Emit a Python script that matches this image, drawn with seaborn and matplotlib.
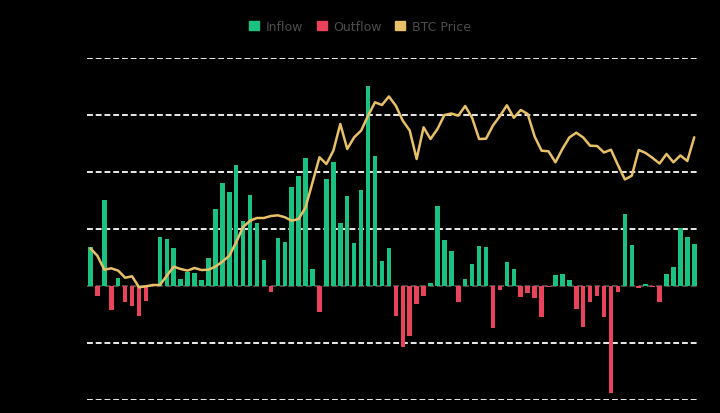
import numpy as np
import pandas as pd
import matplotlib
matplotlib.use("Agg")
import matplotlib.pyplot as plt
import seaborn as sns
from matplotlib.patches import Patch

# daily net flows (USD m) and BTC price
flows = [342, -88, 754, -211, 70, -140, -175, -263, -132, 5,
         430, 412, 333, 61, 123, 114, 53, 246, 675, 904,
         825, 1061, 570, 798, 553, 228, -53, 421, 386, 868,
         962, 1123, 149, -231, 939, 1085, 550, 792, 374, 842,
         1752, 1143, 222, 333, -260, -538, -436, -158, -85, 26,
         699, 406, 304, -143, 61, 193, 354, 339, -371, -32,
         208, 149, -94, -61, -101, -275, -5, 96, 103, 53,
         -202, -362, -138, -85, -269, -939, -55, 632, 360, -20,
         15, -12, -143, 105, 164, 506, 427, 368]
btc_price = [46600, 45300, 42860, 43100, 42700, 41450, 41700, 39770, 39950, 40180,
             40180, 41800, 43390, 42980, 42700, 43160, 42800, 42860, 43390, 44260,
             45300, 47670, 50350, 51460, 51930, 51930, 52280, 52400, 52070, 51460,
             51750, 53810, 58190, 62580, 61400, 63740, 68420, 64040, 66090, 67250,
             69880, 72230, 71750, 73250, 71630, 69000, 67280, 62280, 67840, 65790,
             67540, 70000, 70260, 69880, 71580, 69470, 65790, 65840, 68160, 69820,
             71700, 69510, 70880, 70180, 66230, 63740, 63630, 61700, 64040, 66050,
             66900, 66050, 64610, 64560, 63420, 63910, 61230, 58690, 59350, 63860,
             63330, 62460, 61490, 63160, 61700, 62900, 61930, 66090]

days = np.arange(len(flows))
df = pd.DataFrame({"day": days, "flow": flows})
df["kind"] = np.where(df["flow"] >= 0, "Inflow", "Outflow")

green = "#1bc180"
red = "#e8435a"
gold = "#e8c067"

sns.set_style("dark")
plt.rcParams["font.family"] = ["DejaVu Sans"]

fig = plt.figure(figsize=(7.2, 4.14), dpi=100, facecolor="black")
ax = fig.add_axes([0.121, 0.0314, 0.847, 0.8261])
ax.set_facecolor("black")

# dashed grid behind everything
for v in [-1000, -500, 0, 500, 1000, 1500, 2000]:
    ax.axhline(v, color="white", lw=1.4, ls=(0, (3, 1.5)), alpha=0.92 if v != 0 else 0.3, zorder=0)

sns.barplot(data=df, x="day", y="flow", hue="kind", palette={"Inflow": green, "Outflow": red},
            dodge=False, width=0.65, legend=False, ax=ax, zorder=2, linewidth=0, saturation=1)
ax.set_ylim(-1000, 2000)
ax.set_xlim(-0.48, len(flows) - 0.61)
ax.set_xlabel("")
ax.set_ylabel("")
ax.set_xticks([])
ax.set_yticks([])
for s in ax.spines.values():
    s.set_visible(False)

ax2 = ax.twinx()
sns.lineplot(x=days, y=btc_price, color=gold, lw=1.8, ax=ax2, zorder=3)
ax2.set_ylim(20000, 80000)
ax2.set_xlim(ax.get_xlim())
ax2.set_yticks([])
ax2.set_ylabel("")
for s in ax2.spines.values():
    s.set_visible(False)

handles = [Patch(color=green, label="Inflow"), Patch(color=red, label="Outflow"),
           Patch(color=gold, label="BTC Price")]
fig.legend(handles=handles, loc="center", bbox_to_anchor=(0.5, 0.934), ncol=3, frameon=False,
           fontsize=9, labelcolor="#4d4d4d", handlelength=0.8, handleheight=0.8,
           handletextpad=0.5, columnspacing=1.1)

fig.savefig("out.png", dpi=100, facecolor="black")
